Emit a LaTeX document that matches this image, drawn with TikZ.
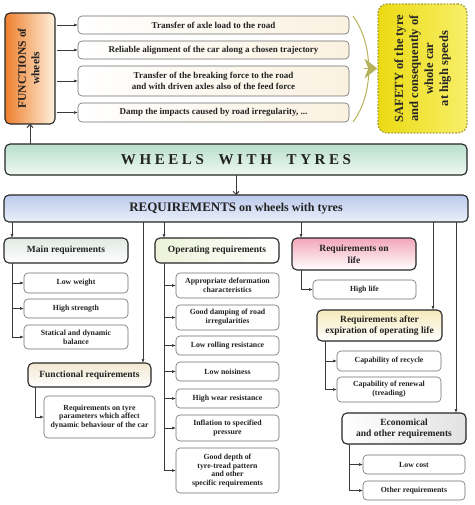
\documentclass[tikz,border=0pt]{standalone}
\usepackage{fontspec}
\setmainfont{Liberation Serif}
\usepackage{xcolor}
\usetikzlibrary{arrows.meta,positioning,calc}

\definecolor{txt}{HTML}{222222}
\definecolor{linegray}{HTML}{3A3A3A}
\definecolor{itemgray}{HTML}{6E6E6E}
\definecolor{funcorange}{HTML}{EE7F2D}
\definecolor{funclight}{HTML}{FFF1DC}
\definecolor{funccream}{HTML}{FAF1E0}
\definecolor{safeyellow}{HTML}{EBDA12}
\definecolor{safelight}{HTML}{F8EF6A}
\definecolor{safeborder}{HTML}{A39C3A}
\definecolor{olivearc}{HTML}{B6B25C}
\definecolor{wheelgreen}{HTML}{B9DFCB}
\definecolor{wheellight}{HTML}{EFF8F3}
\definecolor{reqblue}{HTML}{BCCAEC}
\definecolor{reqlight}{HTML}{EAEFF9}
\definecolor{maingray}{HTML}{E0EAE3}
\definecolor{opgreen}{HTML}{ECF2D8}
\definecolor{lifepink}{HTML}{F2A6BA}
\definecolor{expcream}{HTML}{F5EABC}
\definecolor{funccr}{HTML}{F2E8D0}
\definecolor{ecogray}{HTML}{E2E2E2}

\tikzset{
  sz/.style 2 args={minimum width=#1pt, minimum height=#2pt},
  item/.style={draw=itemgray, line width=0.6pt, rounded corners=4pt, fill=white,
    align=center, inner sep=1pt, outer sep=0pt, text=txt,
    font=\bfseries\fontsize{7.8}{8.8}\selectfont},
  func/.style={item, left color=white, right color=funccream,
    font=\bfseries\fontsize{9}{11.5}\selectfont},
  head/.style={draw=black!85, line width=1.1pt, rounded corners=5pt,
    align=center, inner sep=1pt, outer sep=0pt, text=txt,
    font=\bfseries\fontsize{9.5}{11.5}\selectfont},
  arr/.style={draw=linegray, line width=0.6pt, -{Latex[length=4pt,width=3pt]}},
  barb/.style={draw=linegray, line width=0.9pt, -{Straight Barb[length=3pt,width=6pt]}}
}

\begin{document}
\begin{tikzpicture}[x=1pt,y=-1pt]
  \useasboundingbox (0,0) rectangle (474,505);

  % Functions of wheels
  \node[head, sz={50}{111}, left color=funcorange, right color=funclight,
    font=\bfseries\fontsize{11.5}{13.5}\selectfont] (fn) at (30,68.5)
    {\rotatebox{90}{\begin{tabular}{@{}c@{}}FUNCTIONS of\\ wheels\end{tabular}}};
  \node[func, sz={271}{18}] (f1) at (213.5,25) {Transfer of axle load to the road};
  \node[func, sz={271}{18}] (f2) at (213.5,50) {Reliable alignment of the car along a chosen trajectory};
  \node[func, sz={271}{30}] (f3) at (213.5,81) {Transfer of the breaking force to the road\\ and with driven axles also of the feed force};
  \node[func, sz={271}{19}] (f4) at (213.5,112.5) {Damp the impacts caused by road irregularity, ...};
  \draw[arr, shorten <=2pt] (fn.east |- f1.west) -- (f1.west);
  \draw[arr, shorten <=2pt] (fn.east |- f2.west) -- (f2.west);
  \draw[arr, shorten <=2pt] (fn.east |- f3.west) -- (f3.west);
  \draw[arr, shorten <=2pt] (fn.east |- f4.west) -- (f4.west);

  % Safety
  \node[draw=safeborder, line width=1.3pt, dash pattern=on 1.6pt off 1.6pt,
    rounded corners=9pt, left color=safeyellow, right color=safelight,
    sz={89}{129}, inner sep=0pt, text=black!85,
    font=\bfseries\fontsize{12.5}{15}\selectfont] (safe) at (422.5,68.5)
    {\rotatebox{90}{\begin{tabular}{@{}c@{}}SAFETY of the tyre\\ and consequently of\\ whole car\\ at high speeds\end{tabular}}};
  \coordinate (ca) at ([xshift=4pt]f1.north east);
  \coordinate (cb) at ([xshift=4pt]f4.south east);
  \coordinate (cm) at (364,68.5);
  \draw[olivearc, line width=1pt] (ca) .. controls (374,45) and (374,94) .. (cb);
  \draw[olivearc, line width=1.5pt, -{Stealth[length=13pt,width=20pt,inset=4pt]}] (cm) -- (safe.west);

  % Wheels with tyres
  \node[head, sz={462}{31}, top color=wheelgreen, bottom color=wheellight,
    font=\bfseries\fontsize{15}{17}\selectfont\addfontfeature{LetterSpace=24}] (wt) at (236,159.5)
    {WHEELS \ WITH \ TYRES};
  \draw[barb] (fn.south |- wt.north) -- (fn.south);

  % Requirements
  \node[head, sz={464}{27}, top color=reqblue, bottom color=reqlight] (req) at (236,208.5)
    {{\fontsize{13}{15}\selectfont REQUIREMENTS}{\fontsize{12}{14}\selectfont\ on wheels with tyres}};
  \draw[barb] (wt.south) -- (req.north);

  % Main requirements
  \node[head, sz={124}{25}, top color=maingray, bottom color=white] (mainh) at (66,250.5) {Main requirements};
  \node[item, sz={104}{20}] (m1) at (76,283) {Low weight};
  \node[item, sz={104}{19}] (m2) at (76,308.5) {High strength};
  \node[item, sz={104}{24}] (m3) at (76,337) {Statical and dynamic\\ balance};
  \coordinate (mt) at ([xshift=8pt]mainh.north west);
  \coordinate (mb) at ([xshift=8pt]mainh.south west);
  \draw[arr] (req.south -| mt) -- (mt);
  \draw[arr] (mb) |- (m1.west);
  \draw[arr] (mb) |- (m2.west);
  \draw[arr] (mb) |- (m3.west);

  % Functional requirements
  \node[head, sz={123}{24}, top color=funccr, bottom color=white] (funch) at (89.5,375) {Functional requirements};
  \node[item, sz={111}{42}] (fr1) at (99.5,417) {Requirements on tyre\\ parameters which affect\\ dynamic behaviour of the car};
  \coordinate (ft) at ([xshift=-8pt]funch.north east);
  \coordinate (fb) at ([xshift=7pt]funch.south west);
  \draw[arr] (req.south -| ft) -- (ft);
  \draw[arr] (fb) |- (fr1.west);

  % Operating requirements
  \node[head, sz={124}{25}, left color=opgreen, right color=white] (op) at (217,250.5) {Operating requirements};
  \node[item, sz={103}{25}] (o1) at (227.5,285.5) {Appropriate deformation\\ characteristics};
  \node[item, sz={103}{25}] (o2) at (227.5,317.5) {Good damping of road\\ irregularities};
  \node[item, sz={103}{19}] (o3) at (227.5,345.5) {Low rolling resistance};
  \node[item, sz={103}{19}] (o4) at (227.5,371.5) {Low noisiness};
  \node[item, sz={103}{19}] (o5) at (227.5,398.5) {High wear resistance};
  \node[item, sz={103}{26}] (o6) at (227.5,428) {Inflation to specified\\ pressure};
  \node[item, sz={103}{45}] (o7) at (227.5,470.5) {Good depth of\\ tyre-tread pattern\\ and other\\ specific requirements};
  \coordinate (ot) at ([xshift=9pt]op.north west);
  \coordinate (ob) at ([xshift=9pt]op.south west);
  \draw[arr] (req.south -| ot) -- (ot);
  \draw[arr] (ob) |- (o1.west);
  \draw[arr] (ob) |- (o2.west);
  \draw[arr] (ob) |- (o3.west);
  \draw[arr] (ob) |- (o4.west);
  \draw[arr] (ob) |- (o5.west);
  \draw[arr] (ob) |- (o6.west);
  \draw[arr] (ob) |- (o7.west);

  % Requirements on life
  \node[head, sz={124}{32}, top color=lifepink, bottom color=white] (life) at (354,254) {Requirements on\\ life};
  \node[item, sz={103}{19}] (hl) at (364.5,289.5) {High life};
  \coordinate (lt) at ([xshift=9pt]life.north west);
  \coordinate (lb) at ([xshift=9pt]life.south west);
  \draw[arr] (req.south -| lt) -- (lt);
  \draw[arr] (lb) |- (hl.west);

  % After expiration of operating life
  \node[head, sz={125}{31}, top color=expcream, bottom color=white] (exp) at (379.5,325.5) {Requirements after\\ expiration of operating life};
  \node[item, sz={104}{20}] (e1) at (389,361) {Capability of recycle};
  \node[item, sz={104}{25}] (e2) at (389,389.5) {Capability of renewal\\ (treading)};
  \coordinate (xt) at ([xshift=-9pt]exp.north east);
  \coordinate (xb) at ([xshift=8pt]exp.south west);
  \draw[arr] (req.south -| xt) -- (xt);
  \draw[arr] (xb) |- (e1.west);
  \draw[arr] (xb) |- (e2.west);

  % Economical and other requirements
  \node[head, sz={124}{31}, left color=white, right color=ecogray] (eco) at (404,428.5) {Economical\\ and other requirements};
  \node[item, sz={102}{19}] (c1) at (414,464.5) {Low cost};
  \node[item, sz={102}{19}] (c2) at (414,490.5) {Other requirements};
  \coordinate (et) at ([xshift=-10pt]eco.north east);
  \coordinate (eb) at ([xshift=7pt]eco.south west);
  \draw[arr] (req.south -| et) -- (et);
  \draw[arr] (eb) |- (c1.west);
  \draw[arr] (eb) |- (c2.west);

\end{tikzpicture}
\end{document}
